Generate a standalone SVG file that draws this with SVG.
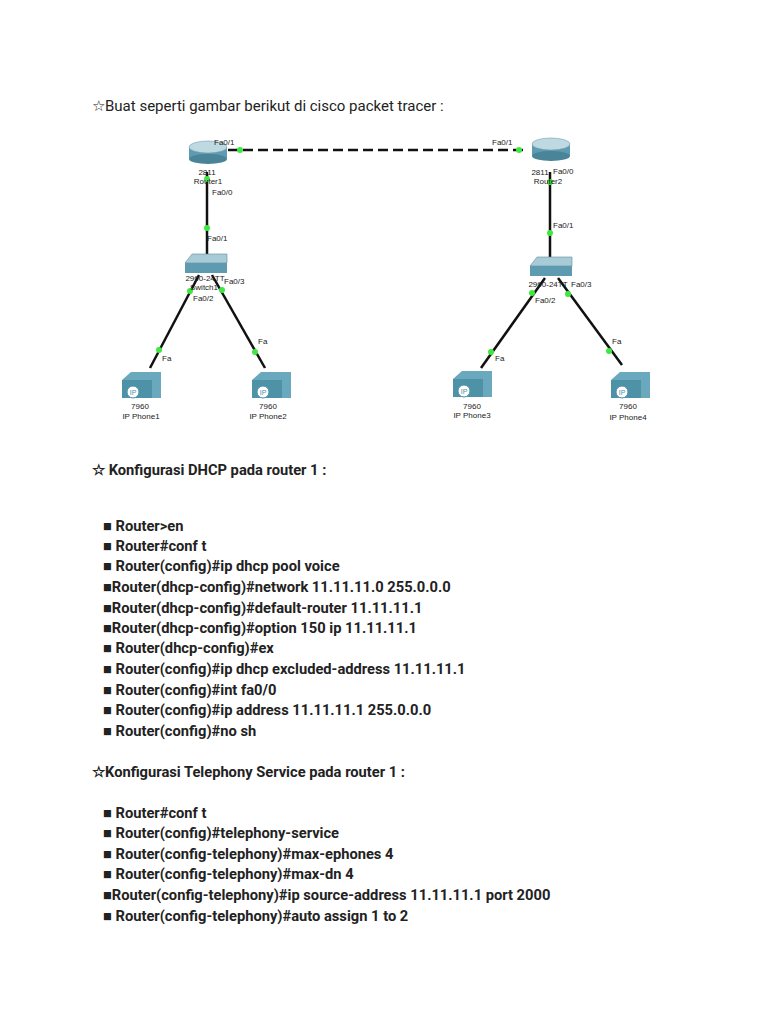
<svg xmlns="http://www.w3.org/2000/svg" width="768" height="1024" viewBox="0 0 768 1024">
<style>
.t{font-family:Roboto,"Liberation Sans",sans-serif;font-size:15px;fill:#222}
.b{font-weight:bold;font-size:14.7px}
.l{font-family:"Liberation Sans",sans-serif;font-size:8px;fill:#222}
.c{text-anchor:middle}
.ln{stroke:#111;stroke-width:2.5;fill:none}
.d{fill:#3ee83e}
</style>
<defs>
<g id="router"><rect x="-19" y="-5" width="38" height="12" fill="#5f9bb0"/><ellipse cx="0" cy="7" rx="19" ry="5" fill="#4a8499"/><ellipse cx="0" cy="-5" rx="19" ry="6" fill="#bfd9e2" stroke="#6fa0b0" stroke-width="0.6"/></g>
<g id="switch"><polygon points="-21,-2 -14,-11 21,-11 21,-2" fill="#a9cbd8" stroke="#5f8fa0" stroke-width="0.6"/><rect x="-21" y="-2" width="42" height="10" fill="#5f9bb0"/></g>
<g id="phone"><polygon points="-19,-10 -10,-18 20,-18 20,8 -19,8" fill="#6aa9bd"/><rect x="-19" y="-10" width="30" height="18" fill="#4e92a8"/><circle cx="-8" cy="2" r="6" fill="#fff" stroke="#4e92a8"/><text x="-8" y="4.5" class="l c" style="font-size:7px;fill:#4e92a8">IP</text></g>
</defs>
<text x="92" y="111" class="t">☆Buat seperti gambar berikut di cisco packet tracer :</text>
<g id="connectors">
<line x1="228" y1="150" x2="528" y2="150" class="ln" stroke-dasharray="10,5" stroke-width="2"/>
<line x1="207" y1="172" x2="207" y2="256" class="ln"/>
<line x1="550" y1="172" x2="550" y2="260" class="ln"/>
<line x1="199" y1="275" x2="150" y2="368" class="ln"/>
<line x1="212" y1="275" x2="265" y2="368" class="ln"/>
<line x1="545" y1="278" x2="481" y2="368" class="ln"/>
<line x1="558" y1="278" x2="622" y2="365" class="ln"/>
<g class="d"><circle cx="240" cy="150" r="3"/><circle cx="519" cy="150" r="3"/><circle cx="207" cy="179" r="3"/><circle cx="207" cy="228" r="3"/><circle cx="550" cy="182" r="3"/><circle cx="550" cy="233" r="3"/><circle cx="190" cy="291" r="3"/><circle cx="159" cy="350" r="3"/><circle cx="222" cy="290" r="3"/><circle cx="255" cy="352" r="3"/><circle cx="532" cy="293" r="3"/><circle cx="491" cy="352" r="3"/><circle cx="568" cy="294" r="3"/><circle cx="609" cy="351" r="3"/></g>
</g>
<g id="router1"><use href="#router" x="208" y="152"/><text x="214" y="145" class="l">Fa0/1</text><text x="207" y="175" class="l c">2811</text><text x="208" y="184" class="l c">Router1</text><text x="212" y="195" class="l">Fa0/0</text><text x="207" y="241" class="l">Fa0/1</text></g>
<g id="router2"><use href="#router" x="551" y="149"/><text x="492" y="145" class="l">Fa0/1</text><text x="540" y="175" class="l c">2811</text><text x="553" y="174" class="l">Fa0/0</text><text x="548" y="184" class="l c">Router2</text><text x="553" y="228" class="l">Fa0/1</text></g>
<g id="switch1"><use href="#switch" x="206" y="265"/><text x="205" y="281" class="l c">2960-24TT</text><text x="204" y="290" class="l c">Switch1</text><text x="224" y="284" class="l">Fa0/3</text><text x="193" y="301" class="l">Fa0/2</text></g>
<g id="switch2"><use href="#switch" x="551" y="268"/><text x="548" y="287" class="l c">2960-24TT</text><text x="571" y="287" class="l">Fa0/3</text><text x="535" y="303" class="l">Fa0/2</text></g>
<g id="phone1"><use href="#phone" x="141" y="390"/><text x="162" y="361" class="l">Fa</text><text x="140" y="409" class="l c">7960</text><text x="141" y="419" class="l c">IP Phone1</text></g>
<g id="phone2"><use href="#phone" x="271" y="390"/><text x="258" y="344" class="l">Fa</text><text x="268" y="409" class="l c">7960</text><text x="268" y="419" class="l c">IP Phone2</text></g>
<g id="phone3"><use href="#phone" x="472" y="389"/><text x="495" y="361" class="l">Fa</text><text x="472" y="409" class="l c">7960</text><text x="472" y="418" class="l c">IP Phone3</text></g>
<g id="phone4"><use href="#phone" x="630" y="390"/><text x="612" y="344" class="l">Fa</text><text x="628" y="409" class="l c">7960</text><text x="628" y="420" class="l c">IP Phone4</text></g>
<g class="t b">
<text x="92" y="475">☆ Konfigurasi DHCP pada router 1 :</text>
<text x="103" y="531">■ Router&gt;en</text>
<text x="103" y="551">■ Router#conf t</text>
<text x="103" y="571">■ Router(config)#ip dhcp pool voice</text>
<text x="103" y="592">■Router(dhcp-config)#network 11.11.11.0 255.0.0.0</text>
<text x="103" y="613">■Router(dhcp-config)#default-router 11.11.11.1</text>
<text x="103" y="633">■Router(dhcp-config)#option 150 ip 11.11.11.1</text>
<text x="103" y="653">■ Router(dhcp-config)#ex</text>
<text x="103" y="674">■ Router(config)#ip dhcp excluded-address 11.11.11.1</text>
<text x="103" y="695">■ Router(config)#int fa0/0</text>
<text x="103" y="715">■ Router(config)#ip address 11.11.11.1 255.0.0.0</text>
<text x="103" y="736">■ Router(config)#no sh</text>
<text x="92" y="777">☆Konfigurasi Telephony Service pada router 1 :</text>
<text x="103" y="818">■ Router#conf t</text>
<text x="103" y="838">■ Router(config)#telephony-service</text>
<text x="103" y="859">■ Router(config-telephony)#max-ephones 4</text>
<text x="103" y="879">■ Router(config-telephony)#max-dn 4</text>
<text x="103" y="900">■Router(config-telephony)#ip source-address 11.11.11.1 port 2000</text>
<text x="103" y="921">■ Router(config-telephony)#auto assign 1 to 2</text>
</g>
</svg>
